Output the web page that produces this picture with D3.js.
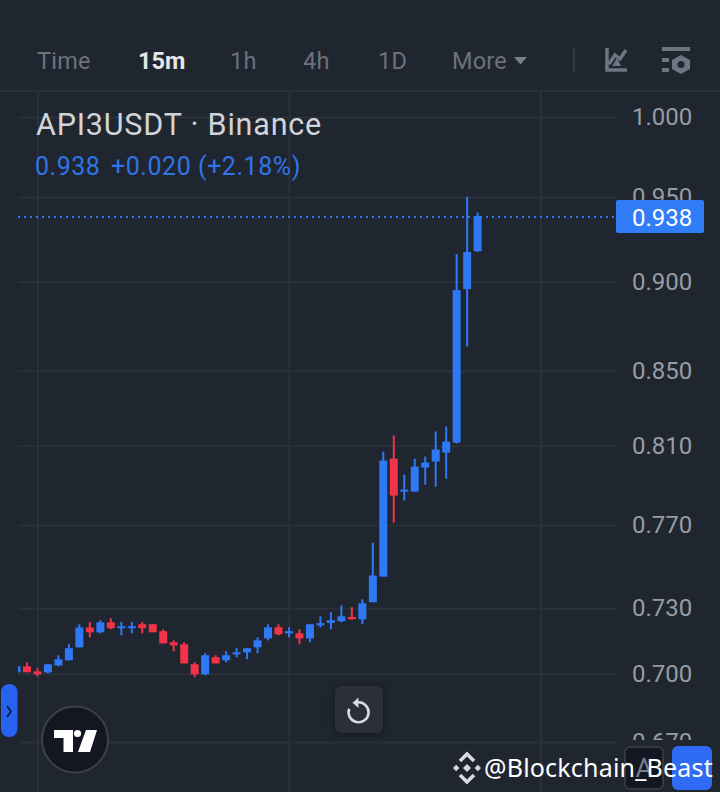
<!DOCTYPE html>
<html>
<head>
<meta charset="utf-8">
<script src="https://cdn.jsdelivr.net/npm/d3@7"></script>
<style>
  html, body { margin: 0; padding: 0; background: #1f2630; }
  svg { display: block; font-family: Roboto, sans-serif; }
</style>
</head>
<body>
<div id="chart"></div>
<script>
// 15m candles, index 0 is the leftmost one
const opens = [.7006,.7033,.7010,.7006,.7037,.7060,.7119,.7210,.7188,.7234,.7211,.7210,.7225,.7225,.7193,.7142,.7133,.7042,.6997,.7074,.7060,.7089,.7096,.7119,.7160,.7211,.7183,.7183,.7160,.7220,.7231,.7239,.7259,.7248,.7328,.7449,.8034,.7866,.7866,.7988,.8019,.8065,.8117,.8956,.9176];
const highs = [.7033,.7051,.7024,.7042,.7083,.7133,.7225,.7236,.7244,.7253,.7236,.7236,.7236,.7225,.7202,.7151,.7142,.7051,.7092,.7083,.7101,.7115,.7115,.7165,.7225,.7225,.7211,.7202,.7225,.7262,.7281,.7313,.7304,.7342,.7613,.8070,.8154,.7952,.8034,.8045,.8175,.8201,.9159,.9502,.9407];
const lows = [.7006,.7006,.6988,.7001,.7033,.7060,.7119,.7165,.7183,.7202,.7174,.7183,.7183,.7188,.7137,.7101,.7046,.6984,.6993,.7046,.7051,.7074,.7065,.7092,.7151,.7174,.7165,.7133,.7142,.7211,.7202,.7234,.7248,.7225,.7328,.7449,.7711,.7821,.7866,.7901,.7891,.7931,.8112,.8633,.9171];
const closes = [.7033,.7006,.6997,.7042,.7065,.7115,.7210,.7188,.7234,.7207,.7216,.7216,.7207,.7188,.7137,.7128,.7046,.6997,.7083,.7046,.7083,.7096,.7115,.7151,.7211,.7179,.7193,.7160,.7225,.7230,.7244,.7262,.7248,.7323,.7454,.8024,.7846,.7876,.7993,.8014,.8081,.8122,.8950,.9171,.9385];

const priceTicks = [1.0, 0.95, 0.9, 0.85, 0.81, 0.77, 0.73, 0.7, 0.67];
const timeTicks = [2, 26, 50];
const lastPrice = 0.938;
const intervals = ["Time", "15m", "1h", "4h", "1D", "More"];
const intervalX = [37, 138, 230, 303, 378, 452];

const width = 720, height = 792;
const blue = "#2f78f6", red = "#f23349", gridColor = "#2a313b";

const svg = d3.select("#chart").append("svg")
  .attr("width", width)
  .attr("height", height);

svg.append("rect").attr("width", width).attr("height", height).attr("fill", "#1f2630");

const defs = svg.append("defs");
defs.append("clipPath").attr("id", "plot")
  .append("rect").attr("x", 18).attr("y", 91).attr("width", 598).attr("height", 701);
defs.append("clipPath").attr("id", "axisclip")
  .append("rect").attr("x", 0).attr("y", 91).attr("width", 88).attr("height", 649);

const x = d3.scaleLinear().domain([0, 50]).range([16.5, 540.5]);
const y = d3.scaleLog().domain([1, 0.67]).range([117, 742]);

// grid comes from the axes' tick lines
const yGrid = svg.append("g").attr("transform", "translate(18,0)")
  .call(d3.axisRight(y).tickValues(priceTicks).tickSize(598).tickFormat(""));
yGrid.select(".domain").remove();
yGrid.selectAll("line").attr("stroke", gridColor).attr("stroke-width", 2);

const xGrid = svg.append("g").attr("transform", "translate(0,91)")
  .call(d3.axisBottom(x).tickValues(timeTicks).tickSize(701).tickFormat(""));
xGrid.select(".domain").remove();
xGrid.selectAll("line").attr("stroke", gridColor).attr("stroke-width", 2);

// toolbar
svg.append("rect").attr("x", 0).attr("y", 90).attr("width", width).attr("height", 2).attr("fill", "#2a313b");
svg.selectAll(".interval").data(intervals).enter().append("text")
  .attr("class", "interval")
  .attr("x", (d, i) => intervalX[i])
  .attr("y", 69)
  .attr("font-size", 23.5)
  .attr("font-weight", d => d === "15m" ? 700 : 400)
  .attr("letter-spacing", d => d === "15m" ? 0 : 0.2)
  .attr("fill", d => d === "15m" ? "#e4e6e9" : "#6c727c")
  .text(d => d);
svg.append("path").attr("d", "M514 57h13l-6.5 7.5z").attr("fill", "#7a808a");
svg.append("rect").attr("x", 573).attr("y", 48).attr("width", 2).attr("height", 24).attr("fill", "#343b45");
svg.append("path")
  .attr("d", "M607 48v22h20M609 64l6-9 5 4 6-9")
  .attr("fill", "none").attr("stroke", "#6f7580").attr("stroke-width", 3.5);
svg.append("path").attr("d", "M612 66l5-8 4 8z").attr("fill", "#6f7580");
svg.append("rect").attr("x", 662).attr("y", 47).attr("width", 28).attr("height", 4).attr("fill", "#6f7580");
svg.append("rect").attr("x", 662).attr("y", 58).attr("width", 7).attr("height", 4).attr("fill", "#6f7580");
svg.append("rect").attr("x", 662).attr("y", 68).attr("width", 7).attr("height", 4).attr("fill", "#6f7580");
svg.append("path")
  .attr("d", "M681 55l9 5v9l-9 5-9-5v-9z")
  .attr("fill", "#6f7580");
svg.append("circle").attr("cx", 681).attr("cy", 64.5).attr("r", 3.5).attr("fill", "#1f2630");

// candles
const candles = svg.append("g").attr("clip-path", "url(#plot)");
const color = i => closes[i] >= opens[i] ? blue : red;

candles.selectAll(".wick").data(opens).enter().append("rect")
  .attr("class", "wick")
  .attr("x", (d, i) => x(i) - 1)
  .attr("y", (d, i) => y(highs[i]))
  .attr("width", 2)
  .attr("height", (d, i) => y(lows[i]) - y(highs[i]))
  .attr("fill", (d, i) => color(i));

candles.selectAll(".body").data(opens).enter().append("rect")
  .attr("class", "body")
  .attr("x", (d, i) => x(i) - 4)
  .attr("y", (d, i) => y(Math.max(opens[i], closes[i])))
  .attr("width", 8)
  .attr("height", (d, i) => Math.max(2, Math.abs(y(opens[i]) - y(closes[i]))))
  .attr("fill", (d, i) => color(i));

// last price line
svg.append("line")
  .attr("x1", 18).attr("x2", 616)
  .attr("y1", y(lastPrice)).attr("y2", y(lastPrice))
  .attr("stroke", blue).attr("stroke-width", 2).attr("stroke-dasharray", "2 4");

// price axis
const yAxis = svg.append("g").attr("transform", "translate(632,0)").attr("clip-path", "url(#axisclip)")
  .call(d3.axisRight(y).tickValues(priceTicks).tickSize(0).tickPadding(0).tickFormat(d3.format(".3f")));
yAxis.select(".domain").remove();
yAxis.selectAll("text")
  .attr("font-family", "Roboto, sans-serif")
  .attr("font-size", 24)
  .attr("fill", "#979ca4");

svg.append("rect").attr("x", 616).attr("y", 200).attr("width", 88).attr("height", 33).attr("rx", 2).attr("fill", "#317df7");
svg.append("text").attr("x", 632).attr("y", y(lastPrice) + 9)
  .attr("font-size", 24).attr("fill", "#fff").text(d3.format(".3f")(lastPrice));

// legend
svg.append("text").attr("x", 36).attr("y", 135)
  .attr("font-size", 30.5).attr("letter-spacing", 0.8).attr("fill", "#d1d4d8").text("API3USDT · Binance");
svg.append("text").attr("x", 35).attr("y", 175)
  .attr("font-size", 25).attr("letter-spacing", 0.5).attr("fill", "#2f74e8").text("0.938");
svg.append("text").attr("x", 111).attr("y", 175)
  .attr("font-size", 25).attr("letter-spacing", 0.55).attr("fill", "#2f74e8").text("+0.020 (+2.18%)");

// side tab
svg.append("rect").attr("x", 1).attr("y", 684).attr("width", 16.5).attr("height", 53).attr("rx", 8).attr("fill", "#2763f0");
svg.append("path").attr("d", "M7 706l4 5.5-4 5.5").attr("fill", "none").attr("stroke", "#10141c").attr("stroke-width", 1.6);

// TradingView badge
svg.append("circle").attr("cx", 75).attr("cy", 739.5).attr("r", 33)
  .attr("fill", "#131722").attr("stroke", "#3c414b").attr("stroke-width", 2);
svg.append("path").attr("d", "M54 730h19v22h-9.5v-14H54z").attr("fill", "#fff");
svg.append("circle").attr("cx", 77.5).attr("cy", 733.5).attr("r", 3.6).attr("fill", "#fff");
svg.append("path").attr("d", "M86 730h11l-7 22H78z").attr("fill", "#fff");

// reset button
svg.append("rect").attr("x", 335).attr("y", 686).attr("width", 48).attr("height", 47).attr("rx", 7)
  .attr("fill", "#2b2f3a").style("filter", "drop-shadow(0 2px 4px rgba(0,0,0,.35))");
svg.append("path").attr("d", "M358 702.3a10 10 0 1 1-8.8 6.5")
  .attr("fill", "none").attr("stroke", "#d8dadd").attr("stroke-width", 2.6);
svg.append("path").attr("d", "M358.5 697.5v10.5l-6-5.2z").attr("fill", "#d8dadd");

// bottom right buttons
svg.append("rect").attr("x", 625).attr("y", 747).attr("width", 38).attr("height", 42).attr("rx", 5)
  .attr("fill", "#131722").attr("stroke", "#3c414b").attr("stroke-width", 1.5);
svg.append("text").attr("x", 644).attr("y", 777).attr("text-anchor", "middle")
  .attr("font-size", 26).attr("fill", "#787d86").text("A");
svg.append("rect").attr("x", 672).attr("y", 746).attr("width", 40).attr("height", 44).attr("rx", 6).attr("fill", "#2f6bf5");

// watermark
const logo = svg.append("g").attr("transform", "translate(467,768)");
logo.append("path").attr("d", "M-7-7L0-14l7 7M-7 7L0 14l7-7")
  .attr("fill", "none").attr("stroke", "#d9dadc").attr("stroke-width", 3.6);
logo.append("path").attr("d", "M-14 0l3.2-3.2L-7.6 0l-3.2 3.2zM14 0l-3.2-3.2L7.6 0l3.2 3.2zM0-4L4 0 0 4-4 0z").attr("fill", "#d9dadc");
svg.append("text").attr("x", 484).attr("y", 777)
  .attr("font-family", "'Noto Sans', sans-serif")
  .attr("font-size", 25).attr("letter-spacing", 0.2).attr("fill", "#fff").text("@Blockchain_Beast");
</script>
</body>
</html>
